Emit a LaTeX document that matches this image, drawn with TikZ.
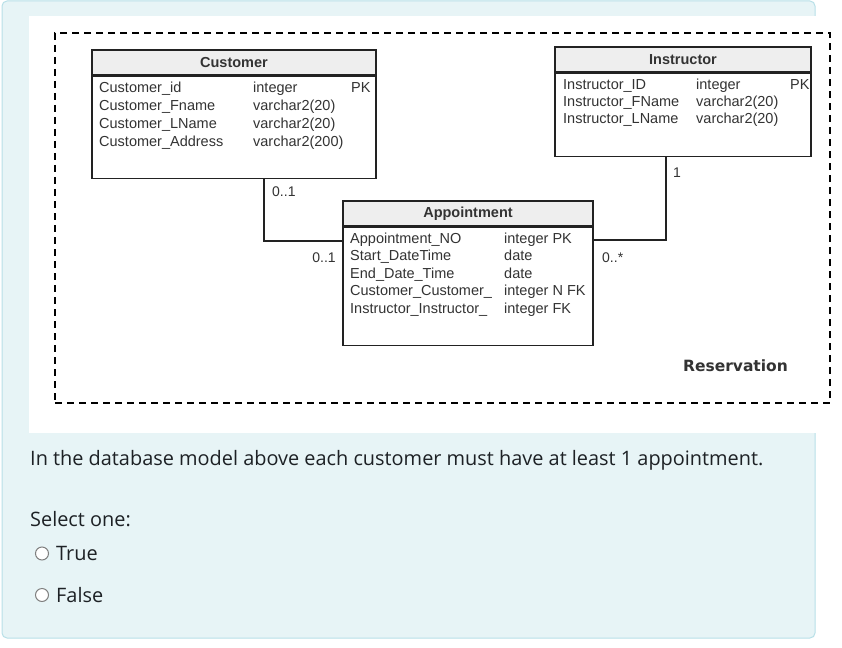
\documentclass[tikz,border=0pt]{standalone}
\usepackage{fontspec}
\setmainfont{Liberation Sans}
\newfontfamily\quizfont{Open Sans}
\newfontfamily\labelfont{DejaVu Sans}
\usetikzlibrary{positioning}
\definecolor{panelfill}{RGB}{231,244,246}
\definecolor{panelline}{RGB}{184,224,232}
\definecolor{headfill}{RGB}{238,238,238}
\definecolor{erline}{RGB}{34,34,34}
\definecolor{ertext}{RGB}{51,51,51}
\definecolor{quiztext}{RGB}{29,33,37}
\definecolor{radioline}{RGB}{128,128,128}

\begin{document}
\begin{tikzpicture}[x=1pt, y=-1pt]
		\tikzstyle{tablehead} = [rectangle, draw = erline, fill = headfill, line width = 1.2pt, minimum height = 25pt, inner sep = 0pt, text = ertext, font = \fontsize{14.5}{17}\selectfont\bfseries];
		\tikzstyle{tablebody} = [rectangle, draw = erline, fill = white, line width = 1.2pt, inner sep = 0pt];
		\tikzstyle{rows} = [anchor = north west, inner sep = 0pt, text = ertext];
		\tikzstyle{mult} = [inner sep = 0pt, text = ertext, font = \fontsize{14}{16}\selectfont];
		\tikzstyle{link} = [draw = erline, line width = 1.2pt];
		\tikzstyle{quiz} = [anchor = base west, inner sep = 0pt, text = quiztext, font = \quizfont\fontsize{19.9}{24}\selectfont];
		\tikzstyle{radio} = [circle, draw = radioline, fill = white, line width = 1pt, minimum size = 13pt, inner sep = 0pt];
		\useasboundingbox (0,0) rectangle (842,647);
		% question panel and the screenshot on it
		\node (panel) at (408.5,319.5) [rectangle, rounded corners = 5pt, draw = panelline, fill = panelfill, line width = 1pt, minimum width = 813pt, minimum height = 637pt] {};
		\node (shot) at (435.5,224.5) [rectangle, fill = white, inner sep = 0pt, minimum width = 813pt, minimum height = 417pt] {};
		\node (frame) at (442.5,218) [rectangle, draw, dash pattern = on 7pt off 5pt, line width = 1.2pt, minimum width = 775pt, minimum height = 370pt] {};
		\node (resv) at (735.5,366) [inner sep = 0pt, text = ertext, font = \labelfont\fontsize{15.5}{18}\selectfont\bfseries] {Reservation};
		% links
		\coordinate (custbend) at (264,241);
		\coordinate (instbend) at (666,240);
		% tables
		\node (custhead) at (234,62.5) [tablehead, minimum width = 284pt] {Customer};
		\node (custbody) [tablebody, minimum width = 284pt, minimum height = 102pt, below = 0pt of custhead] {};
		\node (custrows) at (99,79.4) [rows, font = \fontsize{14.5}{18}\selectfont] {\begin{tabular}{@{}p{154pt}@{}p{98pt}@{}l@{}}
			Customer\_id & integer & PK\\
			Customer\_Fname & varchar2(20) & \\
			Customer\_LName & varchar2(20) & \\
			Customer\_Address & varchar2(200) &
		\end{tabular}};
		\node (insthead) at (683,59.5) [tablehead, minimum width = 256pt] {Instructor};
		\node (instbody) [tablebody, minimum width = 256pt, minimum height = 83pt, below = 0pt of insthead] {};
		\node (instrows) at (563,77.1) [rows, font = \fontsize{14.5}{17}\selectfont] {\begin{tabular}{@{}p{133pt}@{}p{94pt}@{}l@{}}
			Instructor\_ID & integer & PK\\
			Instructor\_FName & varchar2(20) & \\
			Instructor\_LName & varchar2(20) &
		\end{tabular}};
		\node (appthead) at (468,213.5) [tablehead, minimum width = 250pt] {Appointment};
		\node (apptbody) [tablebody, minimum width = 250pt, minimum height = 118pt, below = 0pt of appthead] {};
		\node (apptrows) at (350,230.75) [rows, font = \fontsize{14.5}{17.5}\selectfont] {\begin{tabular}{@{}p{154pt}@{}l@{}}
			Appointment\_NO & integer PK\\
			Start\_DateTime & date\\
			End\_Date\_Time & date\\
			Customer\_Customer\_ & integer N FK\\
			Instructor\_Instructor\_ & integer FK
		\end{tabular}};
		\path [link] (custbody.south -| custbend) -- (custbend) -- (custbend -| apptbody.west);
		\path [link] (instbody.south -| instbend) -- (instbend) -- (instbend -| apptbody.east);
		\node (custmult) at (272,192) [mult, anchor = west] {0..1};
		\node (apptcmult) at (324,258) [mult] {0..1};
		\node (instmult) at (677,173) [mult] {1};
		\node (apptimult) at (602,258) [mult, anchor = west] {0..*};
		% question text
		\node (question) at (30,465) [quiz] {In the database model above each customer must have at least 1 appointment.};
		\node (select) at (30,526) [quiz] {Select one:};
		\node (optrue) at (42,553.5) [radio] {};
		\node (truetext) at (56,560) [quiz] {True};
		\node (opfalse) at (42,595) [radio] {};
		\node (falsetext) at (56,602) [quiz] {False};
	\end{tikzpicture}
\end{document}
